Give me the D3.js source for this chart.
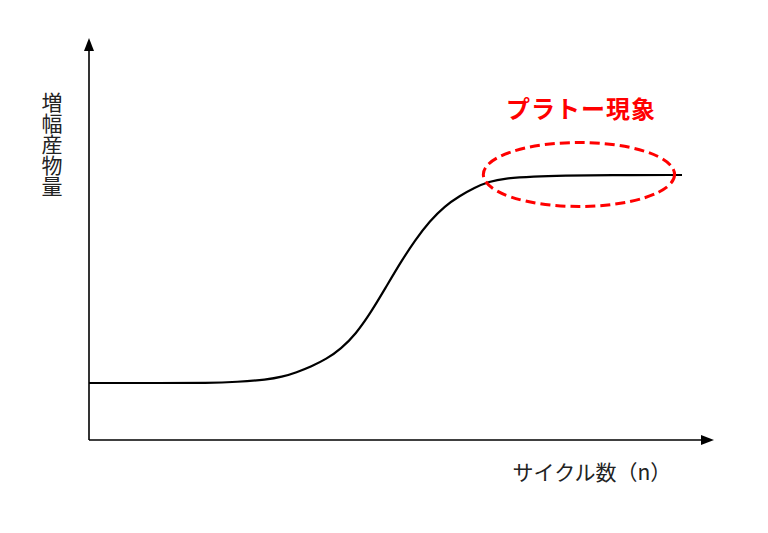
<html>
<head>
<meta charset="utf-8">
<title>Plateau</title>
<script src="https://d3js.org/d3.v7.min.js"></script>
<style>
body { margin: 0; background: #fff; }
text { font-family: "Noto Sans CJK JP", "Noto Sans", sans-serif; }
</style>
</head>
<body>
<div id="chart"></div>
<script>
// cycles and amplification product (relative units)
var cycles = [0, 5, 8, 10, 12, 13, 14, 15, 16, 17, 18, 19, 20, 21, 22, 23, 24, 25, 26, 27, 28, 30, 32, 35, 40];
var amount = [14.25, 14.25, 14.25, 14.5, 15.1, 15.75, 16.9, 18.4, 20.2, 22.8, 26.5, 31.8, 38, 44.3, 50, 54.8, 58.5, 61, 63.1, 64.6, 65.4, 65.9, 66.1, 66.25, 66.25];

var yLabel = "増幅産物量";
var xLabel = "サイクル数（n）";
var note = "プラトー現象";
var plateau = [26.6, 39.5];   // cycles range circled

var width = 768, height = 533;
var x0 = 89, y0 = 440;

var svg = d3.select("#chart").append("svg")
  .attr("width", width)
  .attr("height", height);

var x = d3.scaleLinear().domain([0, 40]).range([x0, 682]);
var y = d3.scaleLinear().domain([0, 100]).range([y0, 40]);

// axes
svg.append("line").attr("x1", x0).attr("y1", y0).attr("x2", x0).attr("y2", 50)
  .attr("stroke", "#000").attr("stroke-width", 1.6);
svg.append("line").attr("x1", x0).attr("y1", y0).attr("x2", 703).attr("y2", y0)
  .attr("stroke", "#000").attr("stroke-width", 1.6);
svg.append("path").attr("d", "M" + (x0 - 5) + ",51L" + x0 + ",38L" + (x0 + 5) + ",51Z").attr("fill", "#000");
svg.append("path").attr("d", "M701," + (y0 - 5) + "L714," + y0 + "L701," + (y0 + 5) + "Z").attr("fill", "#000");

// curve
var line = d3.line()
  .x(function(d, i) { return x(cycles[i]); })
  .y(function(d) { return y(d); })
  .curve(d3.curveBasis);

svg.append("path").datum(amount)
  .attr("d", line)
  .attr("fill", "none")
  .attr("stroke", "#000")
  .attr("stroke-width", 2.2);

// plateau ellipse
var plateauTop = amount[amount.length - 1];
svg.append("ellipse")
  .attr("cx", (x(plateau[0]) + x(plateau[1])) / 2)
  .attr("cy", y(plateauTop) - 0.5)
  .attr("rx", (x(plateau[1]) - x(plateau[0])) / 2)
  .attr("ry", 32)
  .attr("fill", "none")
  .attr("stroke", "#f00")
  .attr("stroke-width", 3)
  .attr("stroke-dasharray", "10,5");

svg.append("text")
  .attr("x", 581).attr("y", 118)
  .attr("text-anchor", "middle")
  .attr("fill", "#f00")
  .attr("font-weight", "bold")
  .attr("font-size", 24)
  .attr("letter-spacing", 1)
  .text(note);

// y label, vertical writing
svg.append("text")
  .attr("x", 52).attr("y", 92)
  .attr("writing-mode", "vertical-rl")
  .style("text-orientation", "upright")
  .attr("font-size", 21)
  .attr("fill", "#222")
  .text(yLabel);

svg.append("text")
  .attr("x", 592).attr("y", 480)
  .attr("text-anchor", "middle")
  .attr("font-size", 21)
  .attr("fill", "#222")
  .text(xLabel);
</script>
</body>
</html>
